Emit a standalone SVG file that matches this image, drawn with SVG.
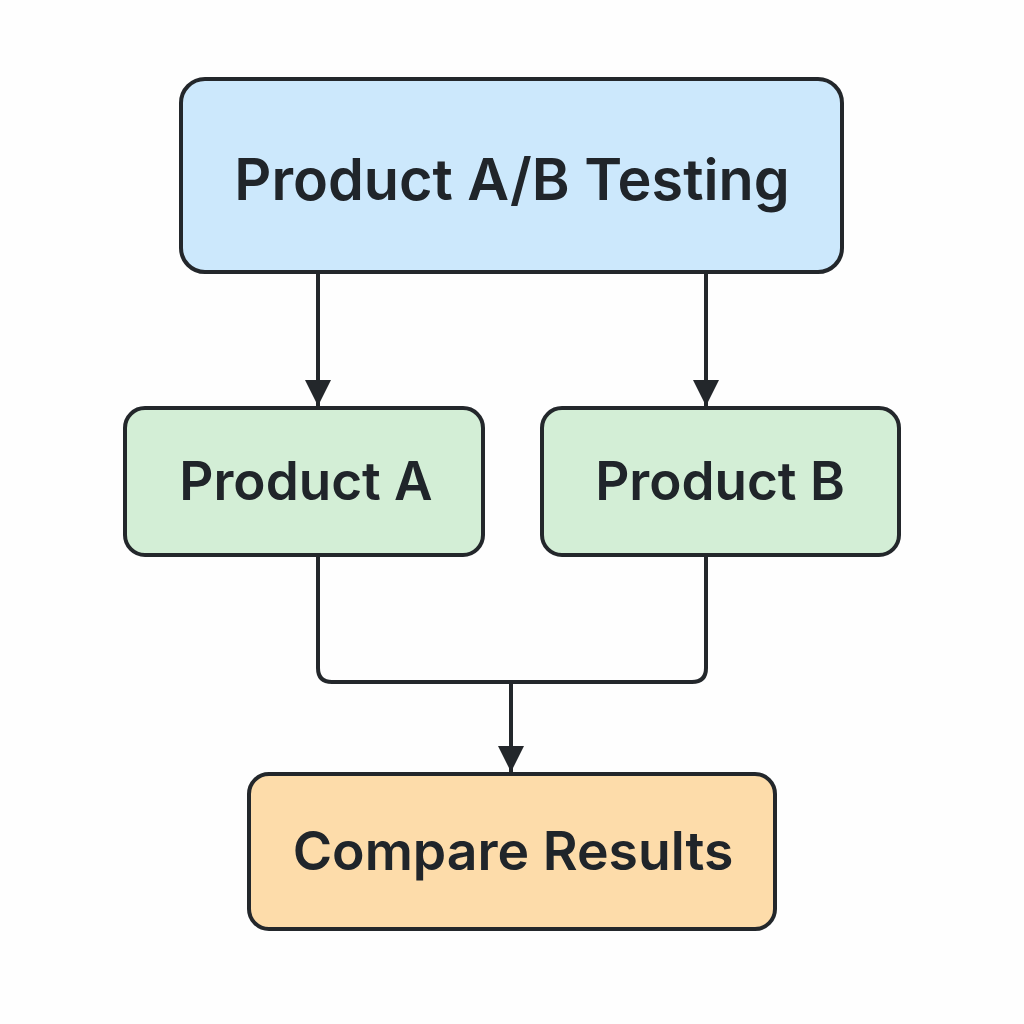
<svg xmlns="http://www.w3.org/2000/svg" width="1024" height="1024" viewBox="0 0 1024 1024">
<defs>
<style>
.box{stroke:#23272b;stroke-width:4}
.lbl{font-family:Inter,"Noto Sans",sans-serif;font-weight:600;fill:#20252a;text-anchor:middle}
.conn{fill:none;stroke:#23272b;stroke-width:4}
</style>
<marker id="arr" viewBox="0 0 10 10" refX="10" refY="5" markerWidth="6.5" markerHeight="6.5" markerUnits="strokeWidth" orient="auto">
<path d="M0,0 L10,5 L0,10 z" fill="#23272b"/>
</marker>
</defs>
<rect width="1024" height="1024" fill="#fefefe"/>
<g id="connectors">
<path class="conn" d="M318,274 V406" marker-end="url(#arr)"/>
<path class="conn" d="M706,274 V406" marker-end="url(#arr)"/>
<path class="conn" d="M318,557 V668 Q318,682 332,682 H692 Q706,682 706,668 V557"/>
<path class="conn" d="M511,682 V772" marker-end="url(#arr)"/>
</g>
<g id="node-testing">
<rect class="box" x="181" y="79" width="661" height="193" rx="24" fill="#cce8fc"/>
<text class="lbl" x="512" y="200" font-size="57.5">Product A/B Testing</text>
</g>
<g id="node-a">
<rect class="box" x="125" y="408" width="358" height="147" rx="20" fill="#d3eed6"/>
<text class="lbl" x="306" y="500" font-size="53">Product A</text>
</g>
<g id="node-b">
<rect class="box" x="542" y="408" width="357" height="147" rx="20" fill="#d3eed6"/>
<text class="lbl" x="720" y="500" font-size="53">Product B</text>
</g>
<g id="node-compare">
<rect class="box" x="249" y="774" width="526" height="155" rx="20" fill="#fddcaa"/>
<text class="lbl" x="513" y="870" font-size="53.5">Compare Results</text>
</g>
</svg>
